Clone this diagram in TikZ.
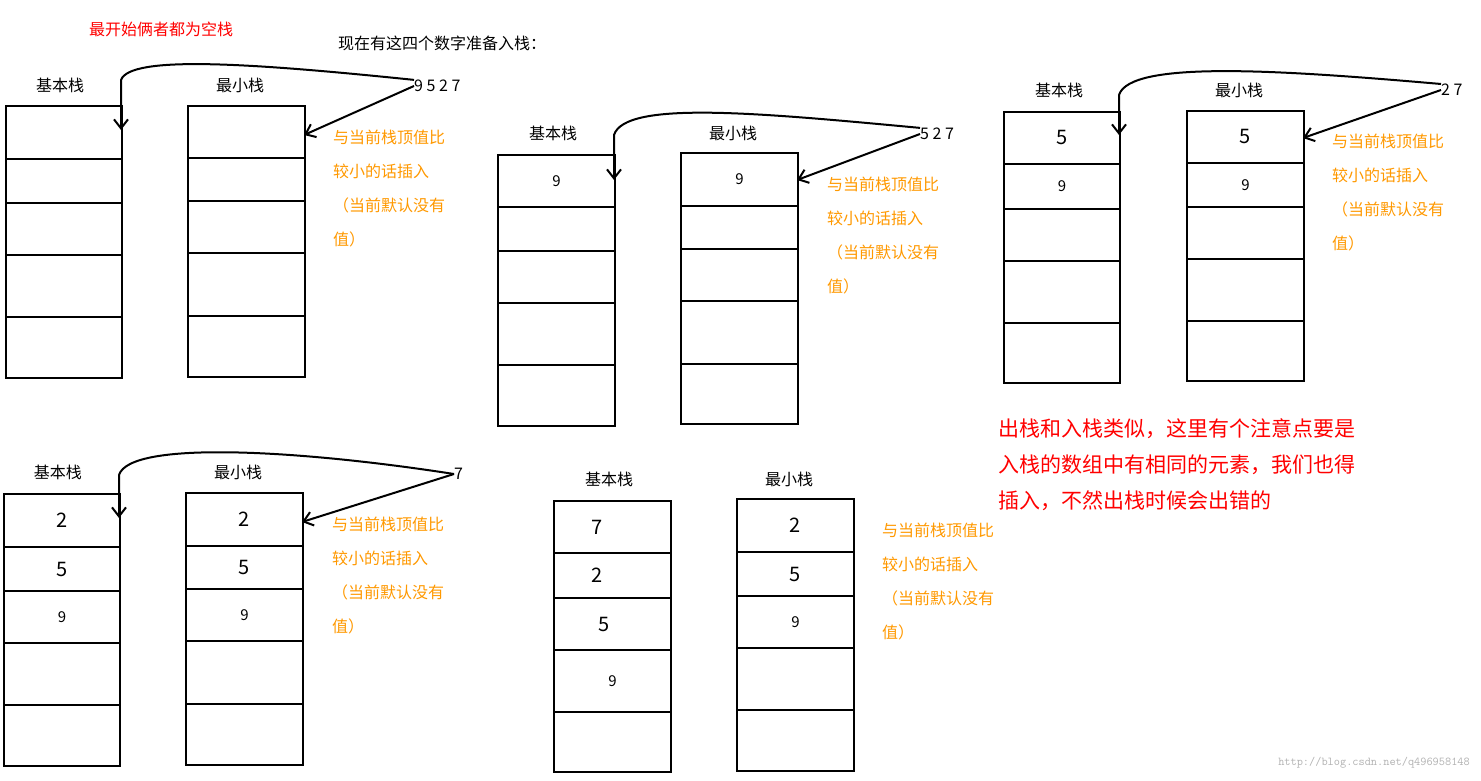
\documentclass[tikz,border=0pt]{standalone}
\usepackage{fontspec}
\setmainfont{Noto Sans CJK SC}
\usetikzlibrary{arrows.meta}
\tikzset{
  cell/.style={draw=black,line width=2pt,minimum width=0pt,inner sep=0pt},
  lbl/.style={font=\fontsize{16}{18}\selectfont,inner sep=0pt},
  val/.style={font=\fontsize{20}{22}\selectfont,inner sep=0pt},
  sval/.style={font=\fontsize{15}{16}\selectfont,inner sep=0pt},
  note/.style={font=\fontsize{16}{34}\selectfont,text=orange!80!yellow,align=left,anchor=north west,inner sep=0pt},
  nums/.style={font=\fontsize{16}{18}\selectfont,inner sep=0pt,anchor=west},
  arr/.style={line width=2pt,-{Straight Barb[length=9pt,width=14pt]}},
}
\newcommand\mkstack[7]{% name, x1, x2, y0..y5 given as #4 list
  \foreach \ya/\yb [count=\i] in {#4} {
    \node[cell,minimum width={#3-#2},minimum height={\yb-\ya},anchor=north west] (#1\i) at (#2,\ya) {};
  }
}
\begin{document}
\begin{tikzpicture}[x=1pt,y=-1pt]
\useasboundingbox (0,0) rectangle (1481,781);
\fill[white] (0,0) rectangle (1481,781);
\node[font=\fontsize{16}{18}\selectfont,text=red,anchor=west,inner sep=0pt] (t1) at (89,29) {最开始俩者都为空栈};
\node[font=\fontsize{16}{18}\selectfont,anchor=west,inner sep=0pt] (t2) at (338,43) {现在有这四个数字准备入栈：};

% panel 1
\mkstack{a}{5}{121}{105/158,158/202,202/254,254/316,316/377}{}{}{}
\mkstack{b}{187}{304}{105/157,157/200,200/252,252/315,315/376}{}{}{}
\node[lbl] (a0) at (60,85) {基本栈};
\node[lbl] (b0) at (240,85) {最小栈};
\node[nums] (n1) at (414,86) {9 5 2 7};
\node[note] (c1) at (333,130) {与当前栈顶值比\\较小的话插入\\（当前默认没有\\值）};
\draw[arr] (n1.north west) .. controls (250,63) and (130,55) .. (121,80) -- (121,130);
\draw[arr] (n1.west) -- (304,135);

% panel 2
\mkstack{c}{497}{614}{154/206,206/250,250/302,302/364,364/425}{}{}{}
\mkstack{d}{680}{797}{152/205,205/248,248/300,300/363,363/423}{}{}{}
\node[lbl] (c0) at (553,133) {基本栈};
\node[lbl] (d0) at (733,133) {最小栈};
\node[nums] (n2) at (920,134) {5 2 7};
\node[sval] at (c1) {9};
\node[sval] at (d1) {9};
\node[note] (c2) at (827,177) {与当前栈顶值比\\较小的话插入\\（当前默认没有\\值）};
\draw[arr] (n2.north west) .. controls (760,113) and (625,100) .. (614,135) -- (614,180);
\draw[arr] (n2.west) -- (797,180);

% panel 3
\mkstack{e}{1003}{1119}{111/163,163/208,208/260,260/322,322/382}{}{}{}
\mkstack{f}{1186}{1303}{110/162,162/206,206/258,258/320,320/380}{}{}{}
\node[lbl] (e0) at (1059,90) {基本栈};
\node[lbl] (f0) at (1239,90) {最小栈};
\node[nums] (n3) at (1441,90) {2 7};
\node[val] at (e1) {5};
\node[sval] at (e2) {9};
\node[val] at (f1) {5};
\node[sval] at (f2) {9};
\node[note] (c3) at (1332,134) {与当前栈顶值比\\较小的话插入\\（当前默认没有\\值）};
\draw[arr] (n3.north west) .. controls (1280,70) and (1130,60) .. (1119,95) -- (1119,135);
\draw[arr] (n3.west) -- (1303,138);

% panel 4
\mkstack{g}{3}{119}{493/546,546/590,590/642,642/704,704/765}{}{}{}
\mkstack{h}{185}{302}{492/545,545/588,588/640,640/703,703/764}{}{}{}
\node[lbl] (g0) at (58,472) {基本栈};
\node[lbl] (h0) at (238,472) {最小栈};
\node[nums] (n4) at (454,474) {7};
\node[val] at (g1) {2};
\node[val] at (g2) {5};
\node[sval] at (g3) {9};
\node[val] at (h1) {2};
\node[val] at (h2) {5};
\node[sval] at (h3) {9};
\node[note] (c4) at (332,517) {与当前栈顶值比\\较小的话插入\\（当前默认没有\\值）};
\draw[arr] (n4.west) .. controls (300,450) and (130,440) .. (119,475) -- (119,518);
\draw[arr] (n4.west) -- (302,522);

% panel 5
\mkstack{i}{553}{670}{500/552,552/597,597/649,649/711,711/771}{}{}{}
\mkstack{j}{736}{853}{498/551,551/595,595/647,647/709,709/770}{}{}{}
\node[lbl] (i0) at (609,479) {基本栈};
\node[lbl] (j0) at (789,479) {最小栈};
\node[val] at ([xshift=-15pt]i1) {7};
\node[val] at ([xshift=-15pt]i2) {2};
\node[val] at ([xshift=-8pt]i3) {5};
\node[sval] at ([xshift=0pt]i4) {9};
\node[val] at (j1) {2};
\node[val] at (j2) {5};
\node[sval] at (j3) {9};
\node[note] (c5) at (882,523) {与当前栈顶值比\\较小的话插入\\（当前默认没有\\值）};

\node[font=\fontsize{21}{36}\selectfont,text=red,align=left,anchor=north west,inner sep=0pt] (r) at (998,418) {出栈和入栈类似，这里有个注意点要是\\入栈的数组中有相同的元素，我们也得\\插入，不然出栈时候会出错的};
\node[font=\fontsize{12}{14}\selectfont\ttfamily,text=gray!60,anchor=south east,inner sep=0pt] (wm) at (1470,768) {http://blog.csdn.net/q496958148};
\end{tikzpicture}
\end{document}
